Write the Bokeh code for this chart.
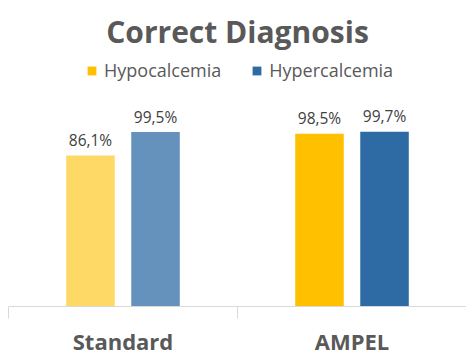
from bokeh.plotting import figure
from bokeh.models import (ColumnDataSource, Range1d, LinearAxis, FixedTicker, Label, LabelSet,
                          Legend, LegendItem)
from bokeh.core.properties import value
from bokeh.transform import dodge
from bokeh.embed import file_html
from bokeh.resources import INLINE

# ---- data ----
title_text = "Correct Diagnosis"
categories = ["Standard", "AMPEL"]
series_names = ["Hypocalcemia", "Hypercalcemia"]
hypocalcemia = [86.1, 98.5]
hypercalcemia = [99.5, 99.7]
hypo_labels = ["86,1%", "98,5%"]
hyper_labels = ["99,5%", "99,7%"]

# ---- styles ----
HYPO_COLORS = ["#FFD966", "#FFC000"]
HYPER_COLORS = ["#6591BD", "#2E6BA4"]
TEXT = "#595959"
LABEL_TEXT = "#404040"
AXIS = "#D9D9D9"
FONT = "Open Sans"
OFFSET = 0.142
BAR_W = 0.212
Y_MAX = 170

n = len(categories)
centers = [i + 0.5 for i in range(n)]

src = ColumnDataSource(dict(x=centers, cat=categories, hypo=hypocalcemia, hyper=hypercalcemia,
                            hypo_lbl=hypo_labels, hyper_lbl=hyper_labels,
                            hypo_col=HYPO_COLORS, hyper_col=HYPER_COLORS))

p = figure(x_range=Range1d(0, n), y_range=Range1d(0, Y_MAX),
           frame_width=458, frame_height=298, x_axis_type=None, y_axis_type=None,
           toolbar_location=None, output_backend="svg", min_border=0,
           min_border_left=8, min_border_top=8,
           outline_line_color=None, background_fill_color="white", border_fill_color="white")

r1 = p.vbar(x=dodge("x", -OFFSET), top="hypo", width=BAR_W, bottom=0,
            source=src, fill_color="hypo_col", line_color=None)
r2 = p.vbar(x=dodge("x", OFFSET), top="hyper", width=BAR_W, bottom=0,
            source=src, fill_color="hyper_col", line_color=None)

for col, ycol, off in (("hypo_lbl", "hypo", -OFFSET), ("hyper_lbl", "hyper", OFFSET)):
    p.add_layout(LabelSet(x=dodge("x", off), y=ycol, text=col, source=src,
                          text_align="center", text_baseline="alphabetic", y_offset=9.5,
                          text_font=value(FONT), text_font_size=value("15.5px"),
                          text_color=LABEL_TEXT))

# category axis: labels at group centres, boundary ticks as minor ticks
cat_axis = LinearAxis(ticker=FixedTicker(ticks=centers, minor_ticks=list(range(n + 1))),
                      major_label_overrides={c: lab for c, lab in zip(centers, categories)},
                      axis_line_color=AXIS, major_tick_line_color=None,
                      major_tick_in=0, major_tick_out=12,
                      minor_tick_line_color=AXIS, minor_tick_in=0, minor_tick_out=12,
                      major_label_text_font=FONT, major_label_text_font_size="22px",
                      major_label_text_font_style="bold", major_label_text_color=TEXT,
                      major_label_standoff=7)
p.add_layout(cat_axis, "below")

# title
p.add_layout(Label(x=n / 2, y=156.8, text=title_text,
                   text_align="center", text_baseline="alphabetic", text_font=FONT,
                   text_font_size="30px", text_font_style="bold", text_color=TEXT))

legend = Legend(items=[LegendItem(label=series_names[0], renderers=[r1], index=1),
                       LegendItem(label=series_names[1], renderers=[r2], index=1)],
                orientation="horizontal", location=(78, 224), padding=0, margin=0, spacing=30,
                glyph_width=11, glyph_height=11, label_standoff=7,
                label_text_font=FONT, label_text_font_size="18px", label_text_color=TEXT,
                border_line_color=None, background_fill_alpha=0)
p.add_layout(legend, "center")

open("out.html", "w").write(file_html(p, INLINE))
